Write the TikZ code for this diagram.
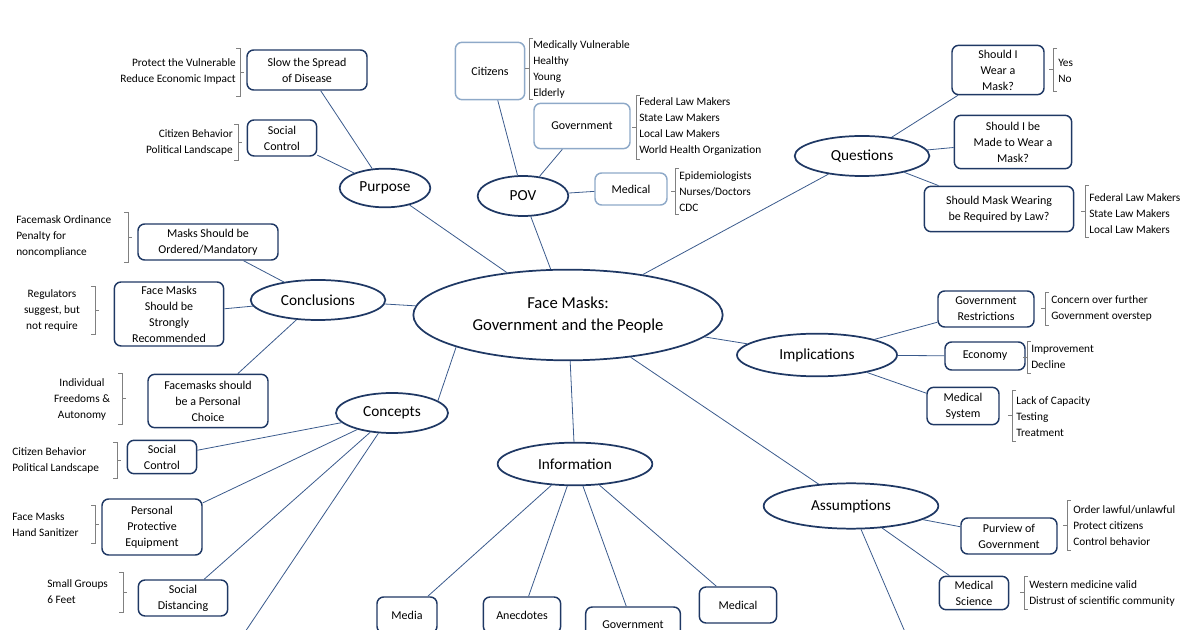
\documentclass[tikz,border=0pt]{standalone}
\usepackage{fontspec}
\setmainfont{Carlito}
\usetikzlibrary{shapes.geometric}
\definecolor{navy}{HTML}{1F3864}
\definecolor{lb}{HTML}{8EA9C8}
\definecolor{ln}{HTML}{3A5A8C}
\begin{document}
\begin{tikzpicture}[x=0.75pt,y=-0.75pt,
 ell/.style={ellipse,draw=navy,line width=1.3pt,inner sep=0pt,font=\fontsize{11.5}{13}\selectfont},
 box/.style={rounded corners=5pt,draw=navy,line width=1.1pt,align=center,inner sep=0pt,font=\fontsize{9}{12}\selectfont},
 lbox/.style={rounded corners=5pt,draw=lb,line width=1.1pt,align=center,inner sep=0pt,font=\fontsize{9}{12}\selectfont},
 txt/.style={inner sep=0pt,font=\fontsize{8.5}{12}\selectfont},
 con/.style={draw=ln,line width=0.6pt},
 brk/.style={draw=gray,line width=0.5pt}]
\useasboundingbox (0,0) rectangle (1200,630);
\newcommand{\rb}[3]{\draw[brk] (#1+4,#2)--(#1,#2)--(#1,#3)--(#1+4,#3); \draw[brk] (#1,{(#2+#3)/2})--(#1-4,{(#2+#3)/2});}
\newcommand{\lbk}[3]{\draw[brk] (#1-4,#2)--(#1,#2)--(#1,#3)--(#1-4,#3); \draw[brk] (#1,{(#2+#3)/2})--(#1+4,{(#2+#3)/2});}
% ellipses
\node[ell,minimum width=232pt,minimum height=68pt,align=center,font=\fontsize{12.5}{15}\selectfont] (c) at (568,315) {Face Masks:\\[1pt]Government and the People};
\node[ell,minimum width=68pt,minimum height=29pt] (pur) at (385,188) {Purpose};
\node[ell,minimum width=68pt,minimum height=30pt] (pov) at (523,196) {POV};
\node[ell,minimum width=101pt,minimum height=30pt] (q) at (862,156) {Questions};
\node[ell,minimum width=101pt,minimum height=30pt] (con) at (318,300) {Conclusions};
\node[ell,minimum width=120pt,minimum height=32pt] (imp) at (817,355) {Implications};
\node[ell,minimum width=84pt,minimum height=30pt] (cpt) at (392,413) {Concepts};
\node[ell,minimum width=116pt,minimum height=32pt] (inf) at (575,464) {Information};
\node[ell,minimum width=131pt,minimum height=34pt] (asm) at (851,506) {Assumptions};
% boxes
\node[box,minimum width=90pt,minimum height=30pt] (b1) at (307,70) {Slow the Spread\\of Disease};
\node[box,minimum width=52pt,minimum height=27pt] (b2) at (282,138) {Social\\Control};
\node[box,minimum width=105pt,minimum height=27pt] (b3) at (208,242) {Masks Should be\\Ordered/Mandatory};
\node[box,minimum width=82pt,minimum height=48pt] (b4) at (169,314) {Face Masks\\Should be\\Strongly\\Recommended};
\node[box,minimum width=90pt,minimum height=40pt] (b5) at (208,401) {Facemasks should\\be a Personal\\Choice};
\node[box,minimum width=52pt,minimum height=25pt] (b6) at (162,457) {Social\\Control};
\node[box,minimum width=75pt,minimum height=42pt] (b7) at (152,527) {Personal\\Protective\\Equipment};
\node[box,minimum width=67pt,minimum height=27pt] (b8) at (183,598) {Social\\Distancing};
\node[box,minimum width=45pt,minimum height=27pt] (i1) at (407,615) {Media};
\node[box,minimum width=58pt,minimum height=27pt] (i2) at (522,615) {Anecdotes};
\node[box,minimum width=71pt,minimum height=27pt] (i3) at (633,625) {Government};
\node[box,minimum width=58pt,minimum height=27pt] (i4) at (738,605) {Medical};
\node[lbox,minimum width=52pt,minimum height=43pt] (p1) at (490,71) {Citizens};
\node[lbox,minimum width=72pt,minimum height=34pt] (p2) at (582,126) {Government};
\node[lbox,minimum width=54pt,minimum height=24pt] (p3) at (631,189) {Medical};
\node[box,minimum width=69pt,minimum height=37pt] (q1) at (998,70) {Should I\\Wear a\\Mask?};
\node[box,minimum width=88pt,minimum height=40pt] (q2) at (1013,142) {Should I be\\Made to Wear a\\Mask?};
\node[box,minimum width=112pt,minimum height=34pt] (q3) at (999,209) {Should Mask Wearing\\be Required by Law?};
\node[box,minimum width=72pt,minimum height=27pt] (m1) at (986,309) {Government\\Restrictions};
\node[box,minimum width=60pt,minimum height=21pt] (m2) at (985,356) {Economy};
\node[box,minimum width=54pt,minimum height=28pt] (m3) at (963,406) {Medical\\System};
\node[box,minimum width=72pt,minimum height=27pt] (a1) at (1009,536) {Purview of\\Government};
\node[box,minimum width=52pt,minimum height=25pt] (a2) at (974,593) {Medical\\Science};
\coordinate (o1) at (245,632);
\coordinate (o2) at (905,632);
% connectors
\foreach \a/\b in {c/pur,c/pov,c/q,c/con,c/imp,c/inf,c/asm,pur/b1,pur/b2,pov/p1,pov/p2,pov/p3,q/q1,q/q2,q/q3,con/b3,con/b4,con/b5,imp/m1,imp/m2,imp/m3,cpt/b6,cpt/b7,cpt/b8,cpt/o1,inf/i1,inf/i2,inf/i3,inf/i4,asm/a1,asm/a2,asm/o2}
 \draw[con] (\a) -- (\b);
\draw[con] (c.196) -- (cpt.15);
% lists left
\node[txt,anchor=east,align=right] at (236,71) {Protect the Vulnerable\\Reduce Economic Impact};
\lbk{240}{48}{96}
\node[txt,anchor=east,align=right] at (233,142) {Citizen Behavior\\Political Landscape};
\lbk{238}{124}{160}
\node[txt,anchor=west,align=left] at (16,236) {Facemask Ordinance\\Penalty for\\noncompliance};
\lbk{128}{212}{262}
\node[txt,align=center] at (52,310) {Regulators\\suggest, but\\not require};
\lbk{95}{286}{334}
\node[txt,align=center] at (82,399) {Individual\\Freedoms \&\\Autonomy};
\lbk{122}{373}{424}
\node[txt,anchor=west,align=left] at (12,460) {Citizen Behavior\\Political Landscape};
\lbk{117}{442}{478}
\node[txt,anchor=west,align=left] at (12,525) {Face Masks\\Hand Sanitizer};
\lbk{95}{505}{543}
\node[txt,anchor=west,align=left] at (47,592) {Small Groups\\6 Feet};
\lbk{123}{572}{612}
% lists right
\rb{529}{38}{99}
\node[txt,anchor=west,align=left] at (533,69) {Medically Vulnerable\\Healthy\\Young\\Elderly};
\rb{636}{95}{159}
\node[txt,anchor=west,align=left] at (639,127) {Federal Law Makers\\State Law Makers\\Local Law Makers\\World Health Organization};
\rb{675}{168}{214}
\node[txt,anchor=west,align=left] at (679,192) {Epidemiologists\\Nurses/Doctors\\CDC};
\rb{1053}{48}{91}
\node[txt,anchor=west,align=left] at (1058,71) {Yes\\No};
\rb{1085}{185}{237}
\node[txt,anchor=west,align=left] at (1089,214) {Federal Law Makers\\State Law Makers\\Local Law Makers};
\rb{1045}{292}{325}
\node[txt,anchor=west,align=left] at (1051,308) {Concern over further\\Government overstep};
\rb{1027}{341}{373}
\node[txt,anchor=west,align=left] at (1031,357) {Improvement\\Decline};
\rb{1012}{390}{441}
\node[txt,anchor=west,align=left] at (1016,417) {Lack of Capacity\\Testing\\Treatment};
\rb{1067}{500}{550}
\node[txt,anchor=west,align=left] at (1073,526) {Order lawful/unlawful\\Protect citizens\\Control behavior};
\rb{1024}{576}{609}
\node[txt,anchor=west,align=left] at (1029,593) {Western medicine valid\\Distrust of scientific community};
\end{tikzpicture}
\end{document}
